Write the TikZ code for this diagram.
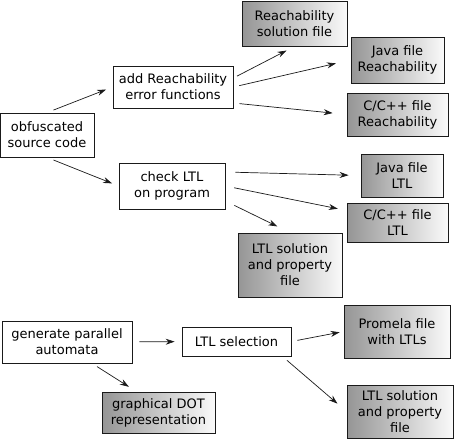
\documentclass[tikz,border=0pt]{standalone}
\usepackage{fontspec}
\setmainfont{DejaVu Sans}
\usepackage{xcolor}
\usepackage{tikz}
\usetikzlibrary{arrows.meta, positioning}
\definecolor{trait}{HTML}{1A1A1A}
\definecolor{ombre}{HTML}{959595}
\definecolor{clair}{HTML}{FAFAFA}
\tikzset{
  etape/.style={rectangle, draw=trait, fill=white, line width=0.8pt,
    font=\fontsize{13}{16}\selectfont, align=center, inner sep=2pt},
  fichier/.style={etape, left color=ombre, right color=clair},
  fleche/.style={-{Stealth[length=9pt, width=6pt]}, line width=0.7pt, color=trait},
}

\begin{document}
\begin{tikzpicture}[x=1pt, y=-1pt]
    \useasboundingbox (0,0) rectangle (454,439);

    % chaine de depart
    \node[etape, minimum width=94pt, minimum height=44pt] (source) at (47,135) {obfuscated\\source code};
    \node[etape, minimum width=120pt, minimum height=42pt] (ajout) at (173,87) {add Reachability\\error functions};
    \node[etape, minimum width=106pt, minimum height=46pt] (verif) at (172,186) {check LTL\\on program};

    % fichiers de sortie
    \node[fichier, minimum width=105pt, minimum height=45pt] (solreach) at (294.5,23.5) {Reachability\\solution file};
    \node[fichier, minimum width=93pt, minimum height=46pt] (javareach) at (397.5,60) {Java file\\Reachability};
    \node[fichier, minimum width=101pt, minimum height=43pt] (creach) at (397.5,114.5) {C/C++ file\\Reachability};
    \node[fichier, minimum width=82pt, minimum height=43pt] (javaltl) at (402,175.5) {Java file\\LTL};
    \node[fichier, minimum width=101pt, minimum height=39pt] (cltl) at (397.5,222.5) {C/C++ file\\LTL};
    \node[fichier, minimum width=104pt, minimum height=64pt] (solltl) at (290,265) {LTL solution\\and property\\file};

    % automates paralleles
    \node[etape, minimum width=130pt, minimum height=42pt] (automates) at (67,342) {generate parallel\\automata};
    \node[etape, minimum width=109pt, minimum height=29pt] (selection) at (236.5,341.5) {LTL selection};
    \node[fichier, minimum width=113pt, minimum height=41pt] (dot) at (158.5,412.5) {graphical DOT\\representation};
    \node[fichier, minimum width=106pt, minimum height=53pt] (promela) at (397,331.5) {Promela file\\with LTLs};
    \node[fichier, minimum width=106pt, minimum height=53pt] (solsel) at (400,411.5) {LTL solution\\and property\\file};

    \draw[fleche, shorten <=7pt, shorten >=7pt] (source.north) -- (ajout.west);
    \draw[fleche, shorten <=7pt, shorten >=7pt] (source.south) -- (verif.west);

    \draw[fleche, shorten <=4pt, shorten >=9pt] ([yshift=9pt]ajout.east) -- (solreach.south);
    \draw[fleche, shorten <=6pt, shorten >=15pt] (ajout.east) -- (javareach.west);
    \draw[fleche, shorten <=6pt, shorten >=14pt] ([yshift=-16pt]ajout.east) -- (creach.west);

    \draw[fleche, shorten <=10pt, shorten >=12pt] ([yshift=14pt]verif.east) -- (javaltl.west);
    \draw[fleche, shorten <=9pt, shorten >=9pt] (verif.east) -- ([yshift=12pt]cltl.west);
    \draw[fleche, shorten <=10pt, shorten >=14pt] ([yshift=-15pt]verif.east) -- (solltl.north);

    \draw[fleche, shorten <=7pt, shorten >=7pt] (automates) -- (selection);
    \draw[fleche, shorten <=6pt, shorten >=9pt] ([xshift=25pt]automates.south) -- ([xshift=-22pt]dot.north);
    \draw[fleche, shorten <=6pt, shorten >=4pt] (selection.east) -- (promela.west);
    \draw[fleche, shorten <=6pt, shorten >=12pt] ([xshift=-9pt]selection.south east) -- (solsel.west);
\end{tikzpicture}
\end{document}
